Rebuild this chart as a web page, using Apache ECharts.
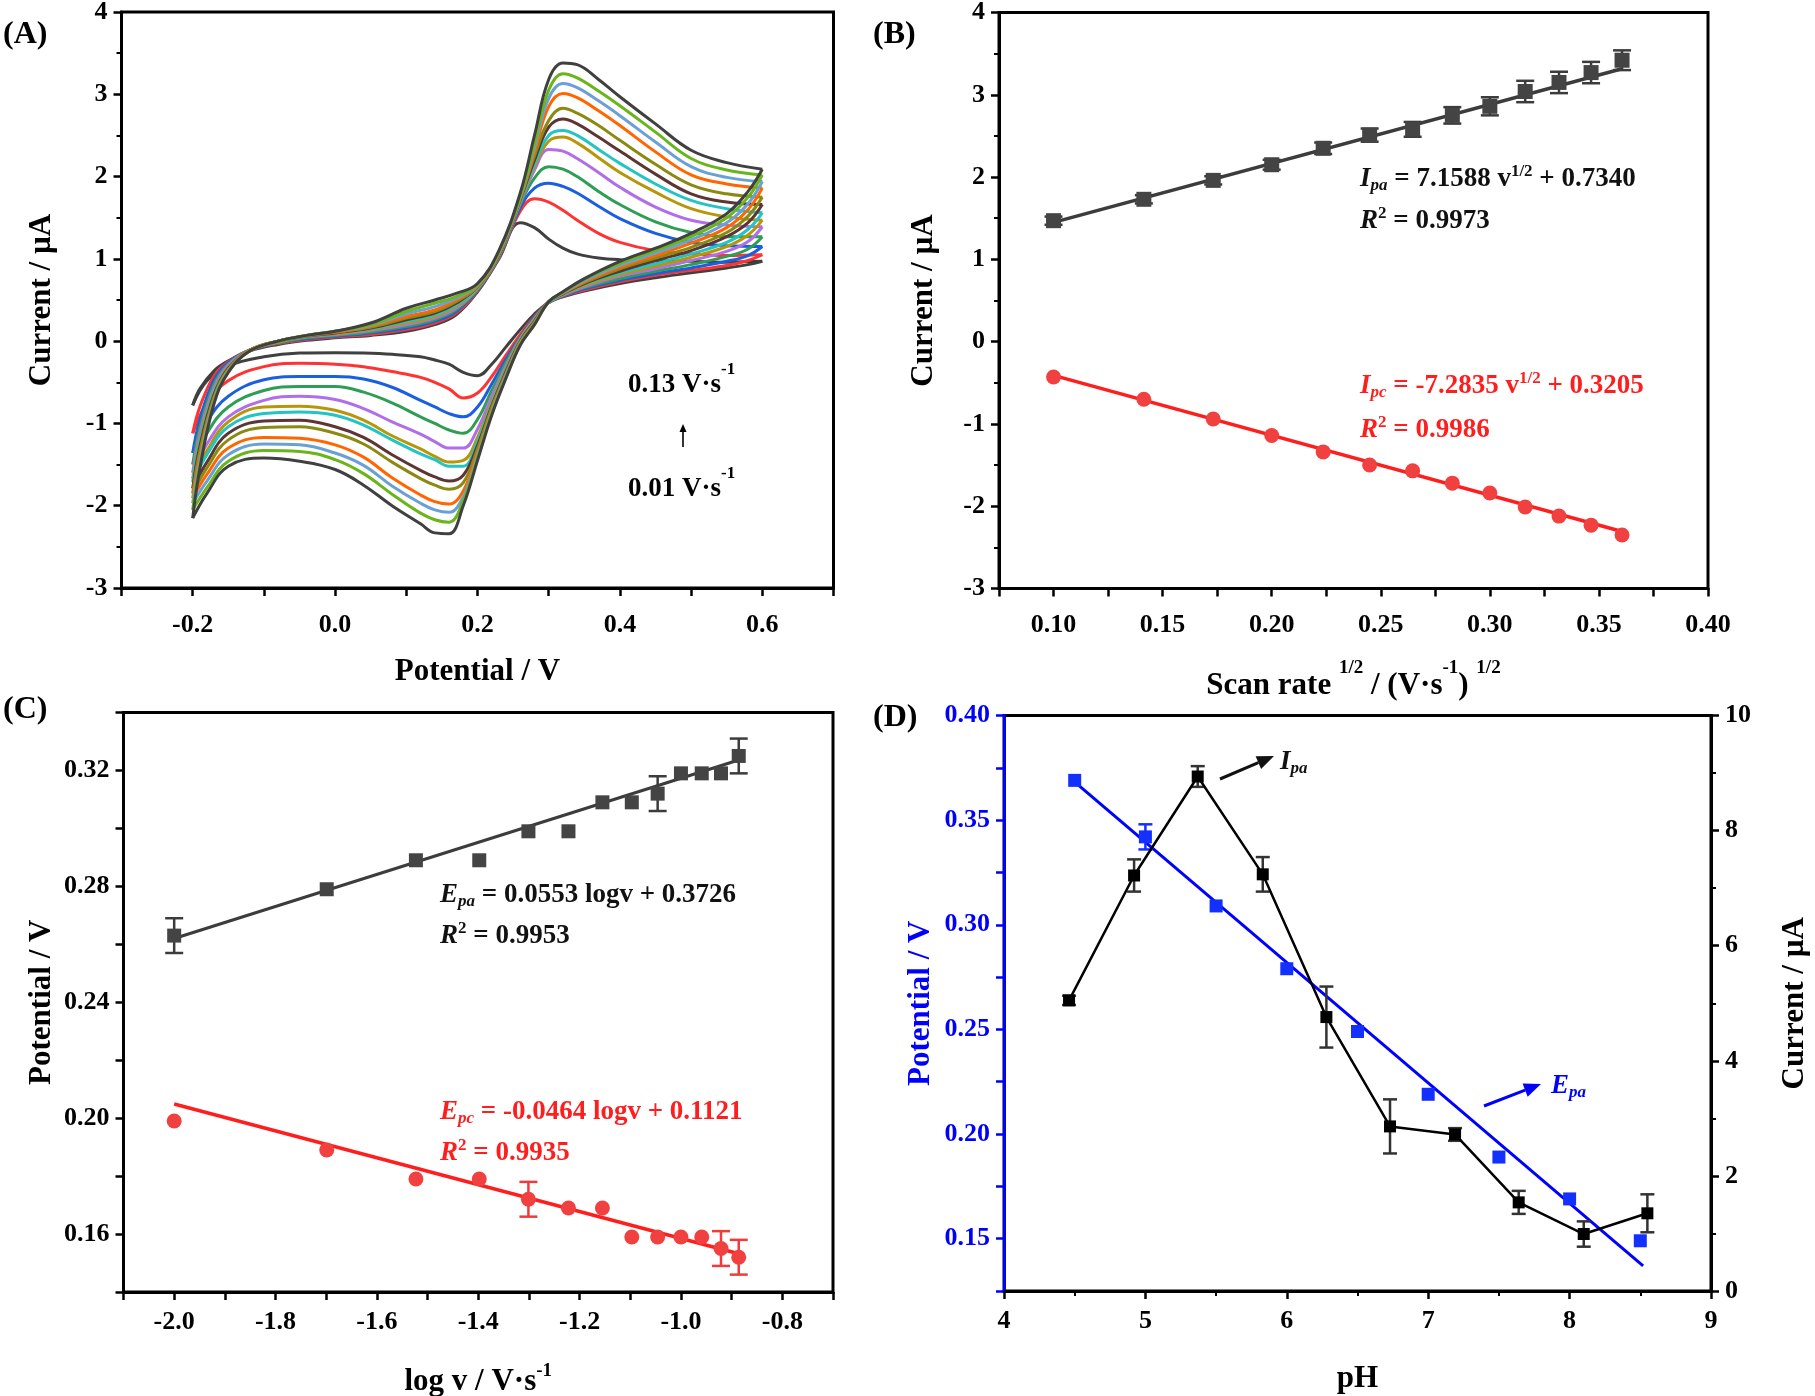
<!DOCTYPE html>
<html><head><meta charset="utf-8">
<script src="https://cdn.jsdelivr.net/npm/echarts@6/dist/echarts.min.js"></script>
<style>html,body{margin:0;padding:0;background:#fff}#c{width:1815px;height:1396px}</style>
</head><body><div id="c"></div>
<script>
const FONT = '"Liberation Serif", "Times New Roman", serif';

// ---------- Panel A : cyclic voltammograms (0.01 ... 0.13 V/s) ----------
const cvRates = ['0.01','0.02','0.03','0.04','0.05','0.06','0.07','0.08','0.09','0.10','0.11','0.12','0.13'];
const cvColors = ['#404040','#ff3333','#1a5fe0','#2e9e55','#b06ee8','#b8960a','#22c4c4','#5e3535','#8a8a12','#ff6600','#6aa0d6','#6ab51c','#404040'];
const cvFwdPotential = [-0.20,-0.19,-0.17,-0.15,-0.12,-0.08,-0.04,0.00,0.05,0.10,0.14,0.17,0.20,0.23,0.26,0.28,0.30,0.32,0.34,0.37,0.40,0.45,0.50,0.55,0.60];
const cvRevPotential = [0.60,0.58,0.55,0.50,0.45,0.40,0.35,0.32,0.30,0.28,0.26,0.24,0.22,0.20,0.18,0.16,0.14,0.12,0.08,0.04,0.00,-0.05,-0.10,-0.15,-0.18,-0.20];

const cvFwd01 = [-0.78,-0.58,-0.36,-0.24,-0.12,-0.04,0.01,0.04,0.07,0.12,0.20,0.32,0.60,1.00,1.44,1.38,1.24,1.13,1.06,1.01,0.99,0.98,0.97,0.96,0.97];
const cvFwd02 = [-1.12,-0.80,-0.42,-0.25,-0.11,-0.03,0.02,0.05,0.08,0.14,0.22,0.34,0.61,1.01,1.58,1.73,1.69,1.59,1.47,1.31,1.20,1.10,1.06,1.04,1.05];
const cvFwd03 = [-1.36,-0.95,-0.47,-0.26,-0.11,-0.02,0.03,0.06,0.10,0.16,0.24,0.36,0.62,1.02,1.62,1.86,1.92,1.88,1.80,1.64,1.49,1.31,1.20,1.16,1.15];
const cvFwd04 = [-1.50,-1.05,-0.52,-0.28,-0.11,-0.02,0.04,0.07,0.11,0.18,0.26,0.38,0.63,1.03,1.66,1.98,2.12,2.09,2.00,1.82,1.66,1.45,1.32,1.27,1.27];
const cvFwd05 = [-1.60,-1.12,-0.56,-0.29,-0.11,-0.01,0.05,0.08,0.13,0.20,0.28,0.40,0.64,1.04,1.68,2.08,2.33,2.31,2.22,2.05,1.87,1.63,1.47,1.41,1.39];
const cvFwd06 = [-1.67,-1.18,-0.60,-0.31,-0.11,-0.01,0.06,0.09,0.14,0.22,0.30,0.42,0.64,1.04,1.70,2.12,2.43,2.48,2.41,2.23,2.05,1.81,1.61,1.51,1.47];
const cvFwd07 = [-1.71,-1.22,-0.62,-0.32,-0.11,0.00,0.06,0.10,0.15,0.24,0.32,0.44,0.65,1.05,1.71,2.15,2.50,2.56,2.50,2.33,2.16,1.91,1.71,1.61,1.56];
const cvFwd08 = [-1.79,-1.28,-0.65,-0.33,-0.11,0.00,0.06,0.10,0.16,0.26,0.34,0.46,0.66,1.05,1.72,2.20,2.60,2.70,2.64,2.48,2.31,2.03,1.79,1.69,1.66];
const cvFwd09 = [-1.85,-1.34,-0.68,-0.34,-0.11,0.00,0.06,0.11,0.17,0.28,0.36,0.48,0.66,1.06,1.73,2.25,2.68,2.83,2.77,2.62,2.44,2.15,1.90,1.79,1.75];
const cvFwd10 = [-1.91,-1.40,-0.70,-0.35,-0.11,0.00,0.07,0.11,0.18,0.30,0.38,0.50,0.67,1.06,1.74,2.30,2.85,3.01,2.96,2.80,2.62,2.30,2.02,1.91,1.86];
const cvFwd11 = [-1.97,-1.45,-0.72,-0.36,-0.12,0.00,0.07,0.12,0.19,0.33,0.42,0.52,0.68,1.07,1.75,2.35,2.95,3.13,3.08,2.92,2.74,2.42,2.12,1.99,1.94];
const cvFwd12 = [-2.05,-1.50,-0.74,-0.37,-0.12,0.00,0.07,0.12,0.20,0.36,0.46,0.54,0.69,1.08,1.76,2.40,3.05,3.25,3.20,3.04,2.86,2.54,2.22,2.08,2.02];
const cvFwd13 = [-2.15,-1.55,-0.76,-0.38,-0.12,0.00,0.07,0.12,0.22,0.40,0.50,0.58,0.70,1.10,1.80,2.50,3.18,3.38,3.36,3.18,2.97,2.64,2.32,2.17,2.09];

const cvRev01 = [0.97,0.93,0.89,0.83,0.77,0.70,0.61,0.54,0.47,0.33,0.14,-0.07,-0.28,-0.42,-0.38,-0.28,-0.23,-0.19,-0.16,-0.145,-0.14,-0.145,-0.19,-0.30,-0.48,-0.78];
const cvRev02 = [1.05,0.98,0.92,0.86,0.80,0.72,0.62,0.545,0.47,0.30,0.08,-0.17,-0.43,-0.63,-0.69,-0.58,-0.50,-0.44,-0.37,-0.31,-0.28,-0.27,-0.31,-0.48,-0.75,-1.12];
const cvRev03 = [1.15,1.04,0.97,0.89,0.82,0.74,0.635,0.55,0.47,0.29,0.05,-0.22,-0.52,-0.80,-0.92,-0.88,-0.80,-0.72,-0.56,-0.46,-0.43,-0.43,-0.47,-0.67,-0.98,-1.36];
const cvRev04 = [1.27,1.12,1.03,0.93,0.85,0.76,0.65,0.555,0.47,0.28,0.04,-0.26,-0.60,-0.95,-1.12,-1.08,-1.00,-0.92,-0.75,-0.62,-0.55,-0.55,-0.60,-0.80,-1.12,-1.50];
const cvRev05 = [1.39,1.21,1.09,0.98,0.88,0.79,0.66,0.56,0.47,0.27,0.03,-0.30,-0.67,-1.07,-1.30,-1.30,-1.22,-1.13,-0.98,-0.82,-0.71,-0.67,-0.72,-0.92,-1.25,-1.60];
const cvRev06 = [1.47,1.29,1.15,1.02,0.91,0.81,0.675,0.565,0.47,0.26,0.02,-0.33,-0.73,-1.17,-1.45,-1.47,-1.40,-1.31,-1.15,-0.96,-0.84,-0.79,-0.80,-0.98,-1.33,-1.67];
const cvRev07 = [1.56,1.36,1.20,1.06,0.94,0.83,0.69,0.57,0.47,0.25,0.01,-0.35,-0.76,-1.22,-1.52,-1.52,-1.44,-1.37,-1.20,-1.02,-0.90,-0.86,-0.88,-1.04,-1.38,-1.71];
const cvRev08 = [1.66,1.44,1.27,1.10,0.98,0.85,0.70,0.575,0.48,0.24,0.00,-0.37,-0.79,-1.27,-1.63,-1.70,-1.65,-1.57,-1.38,-1.17,-1.04,-0.96,-0.97,-1.12,-1.47,-1.79];
const cvRev09 = [1.75,1.52,1.32,1.14,1.01,0.88,0.71,0.58,0.48,0.23,-0.01,-0.39,-0.81,-1.31,-1.72,-1.80,-1.75,-1.67,-1.47,-1.25,-1.12,-1.04,-1.05,-1.20,-1.54,-1.85];
const cvRev10 = [1.86,1.60,1.38,1.19,1.04,0.90,0.72,0.585,0.48,0.22,-0.02,-0.41,-0.84,-1.36,-1.82,-1.98,-1.95,-1.87,-1.66,-1.41,-1.26,-1.18,-1.17,-1.30,-1.62,-1.91];
const cvRev11 = [1.94,1.67,1.44,1.23,1.07,0.92,0.735,0.59,0.48,0.21,-0.03,-0.42,-0.86,-1.39,-1.89,-2.08,-2.05,-1.97,-1.76,-1.51,-1.36,-1.26,-1.25,-1.38,-1.70,-1.97];
const cvRev12 = [2.02,1.75,1.50,1.27,1.10,0.945,0.75,0.595,0.48,0.20,-0.04,-0.44,-0.88,-1.42,-1.94,-2.20,-2.17,-2.09,-1.86,-1.61,-1.44,-1.34,-1.33,-1.46,-1.78,-2.05];
const cvRev13 = [2.09,1.82,1.55,1.31,1.13,0.97,0.76,0.60,0.48,0.20,-0.05,-0.45,-0.90,-1.45,-2.00,-2.34,-2.33,-2.22,-2.00,-1.75,-1.56,-1.46,-1.42,-1.52,-1.85,-2.15];

const cvFwd = [cvFwd01,cvFwd02,cvFwd03,cvFwd04,cvFwd05,cvFwd06,cvFwd07,cvFwd08,cvFwd09,cvFwd10,cvFwd11,cvFwd12,cvFwd13];
const cvRev = [cvRev01,cvRev02,cvRev03,cvRev04,cvRev05,cvRev06,cvRev07,cvRev08,cvRev09,cvRev10,cvRev11,cvRev12,cvRev13];

// ---------- Panel B : peak current vs sqrt(scan rate) ----------
const sqrtScanRate = [0.1000,0.1414,0.1732,0.2000,0.2236,0.2449,0.2646,0.2828,0.3000,0.3162,0.3317,0.3464,0.3606];
const ipaB    = [1.47,1.73,1.96,2.15,2.35,2.51,2.58,2.75,2.86,3.04,3.15,3.27,3.42];
const ipaBErr = [0.05,0.05,0.05,0.06,0.07,0.08,0.09,0.10,0.11,0.13,0.13,0.13,0.12];
const ipcB    = [-0.43,-0.70,-0.94,-1.14,-1.34,-1.50,-1.57,-1.72,-1.84,-2.01,-2.12,-2.23,-2.35];
const ipaFitB = [[0.100,1.45],[0.361,3.32]];
const ipcFitB = [[0.100,-0.41],[0.361,-2.31]];

// ---------- Panel C : peak potential vs log(scan rate) ----------
const logScanRate = [-2.000,-1.699,-1.523,-1.398,-1.301,-1.222,-1.155,-1.097,-1.046,-1.000,-0.959,-0.921,-0.886];
const epaC    = [0.263,0.279,0.289,0.289,0.299,0.299,0.309,0.309,0.312,0.319,0.319,0.319,0.325];
const epaCErr = [0.006,0,0,0,0,0,0,0,0.006,0,0,0,0.006];
const epcC    = [0.199,0.189,0.179,0.179,0.172,0.169,0.169,0.159,0.159,0.159,0.159,0.155,0.152];
const epcCErr = [0,0,0,0,0.006,0,0,0,0,0,0,0.006,0.006];
const epaFitC = [[-2.000,0.262],[-0.886,0.3236]];
const epcFitC = [[-2.000,0.2049],[-0.886,0.1532]];

// ---------- Panel D : effect of pH ----------
const phE      = [4.5,5.0,5.5,6.0,6.5,7.0,7.5,8.0,8.5];
const epaD     = [0.369,0.342,0.309,0.279,0.249,0.219,0.189,0.169,0.149];
const epaDErr  = [0,0.006,0,0,0,0,0,0,0];
const epaFitD  = [[4.47,0.370],[8.52,0.137]];
const phI      = [4.46,4.92,5.37,5.83,6.28,6.73,7.19,7.64,8.10,8.55];
const ipaD     = [5.05,7.22,8.94,7.24,4.76,2.86,2.72,1.54,0.99,1.35];
const ipaDErr  = [0.08,0.28,0.18,0.30,0.53,0.47,0.11,0.20,0.22,0.33];

// ---------- helpers ----------
function merge(base, extra) {
  const out = Object.assign({}, base);
  for (const k in extra) {
    const v = extra[k];
    if (v && typeof v === 'object' && !Array.isArray(v) && base[k] && typeof base[k] === 'object') out[k] = merge(base[k], v);
    else out[k] = v;
  }
  return out;
}
function axis(extra, color) {
  const c = color || '#000';
  const base = {
    type: 'value', splitLine: {show: false},
    axisLine: {show: true, onZero: false, lineStyle: {color: c, width: 3}},
    axisTick: {show: true, inside: false, length: 8, lineStyle: {color: c, width: 2.5}},
    minorTick: {show: false},
    axisLabel: {color: c, fontFamily: FONT, fontWeight: 'bold', fontSize: 26, margin: 14},
    nameLocation: 'middle', nameRotate: null,
    nameTextStyle: {color: c, fontFamily: FONT, fontWeight: 'bold', fontSize: 31}
  };
  return merge(base, extra);
}
const minor2 = {show: true, splitNumber: 2, length: 5, lineStyle: {color: '#000', width: 2}};
function fmtEvery(step, digits) {
  return function (v) {
    const n = Math.round(v / step * 1e6) / 1e6;
    if (Math.abs(n - Math.round(n)) > 1e-6) return '';
    if (Math.abs(v) < 1e-9) v = 0;
    return v.toFixed(digits);
  };
}
function pairs(xs, ys) { return xs.map((x, i) => [x, ys[i]]); }
function triples(xs, ys, es) { return xs.map((x, i) => [x, ys[i], es[i]]); }
function errorSeries(xi, yi, data, color, capW) {
  return {
    type: 'custom', xAxisIndex: xi, yAxisIndex: yi, data: data, silent: true, z: 3,
    encode: {x: 0, y: 1},
    renderItem: function (params, api) {
      const x = api.value(0), y = api.value(1), e = api.value(2);
      if (!(e > 0)) return null;
      const t = api.coord([x, y + e]), b = api.coord([x, y - e]), h = capW / 2;
      const st = {stroke: color, lineWidth: 2.5};
      return {type: 'group', children: [
        {type: 'line', shape: {x1: t[0], y1: t[1], x2: b[0], y2: b[1]}, style: st},
        {type: 'line', shape: {x1: t[0] - h, y1: t[1], x2: t[0] + h, y2: t[1]}, style: st},
        {type: 'line', shape: {x1: b[0] - h, y1: b[1], x2: b[0] + h, y2: b[1]}, style: st}
      ]};
    }
  };
}
function richStyles(color, supRaiseLine) {
  const L = supRaiseLine || 31;
  return {
    n: {fontFamily: FONT, fontWeight: 'bold', fontSize: 27, fill: color, lineHeight: L},
    i: {fontFamily: FONT, fontWeight: 'bold', fontStyle: 'italic', fontSize: 27, fill: color, lineHeight: L},
    sub: {fontFamily: FONT, fontWeight: 'bold', fontStyle: 'italic', fontSize: 17, fill: color, lineHeight: 17, verticalAlign: 'bottom'},
    sup: {fontFamily: FONT, fontWeight: 'bold', fontSize: 17, fill: color, lineHeight: 17, verticalAlign: 'top'}
  };
}
function label(x, y, text, color, L) {
  return {type: 'text', x: x, y: y, z: 100, style: {text: text, rich: richStyles(color, L), align: 'left', verticalAlign: 'middle'}};
}
function arrow(x1, y1, x2, y2, color, lw, hl, hw) {
  const dx = x2 - x1, dy = y2 - y1, len = Math.hypot(dx, dy), ux = dx / len, uy = dy / len;
  hl = hl || 17; hw = hw || 7; lw = lw || 3;
  const bx = x2 - ux * hl, by = y2 - uy * hl;
  return {type: 'group', z: 100, children: [
    {type: 'line', shape: {x1: x1, y1: y1, x2: bx, y2: by}, style: {stroke: color, lineWidth: lw}},
    {type: 'polygon', shape: {points: [[x2, y2], [bx - uy * hw, by + ux * hw], [bx + uy * hw, by - ux * hw]]}, style: {fill: color}}
  ]};
}
function panelLetter(x, y, t) {
  return {type: 'text', x: x, y: y, z: 100, style: {text: t, fill: '#000', font: 'bold 32px ' + FONT, align: 'left', verticalAlign: 'middle'}};
}

// ---------- series ----------
const series = [];
cvFwd.forEach(function (arr, k) {
  const ls = {color: cvColors[k], width: 3};
  series.push({type: 'line', name: cvRates[k] + ' fwd', xAxisIndex: 0, yAxisIndex: 0, data: pairs(cvFwdPotential, arr),
    smooth: 0.4, symbol: 'none', silent: true, lineStyle: ls, itemStyle: {color: cvColors[k]}});
  series.push({type: 'line', name: cvRates[k] + ' rev', xAxisIndex: 0, yAxisIndex: 0, data: pairs(cvRevPotential, cvRev[k]),
    smooth: 0.4, symbol: 'none', silent: true, lineStyle: ls, itemStyle: {color: cvColors[k]}});
});
const darkGray = '#3c3c3c', red = '#f23a3a', blue = '#0000ff';
// B
series.push({type: 'line', xAxisIndex: 1, yAxisIndex: 1, data: ipaFitB, symbol: 'none', silent: true, lineStyle: {color: darkGray, width: 3.5}, z: 2});
series.push({type: 'line', xAxisIndex: 1, yAxisIndex: 1, data: ipcFitB, symbol: 'none', silent: true, lineStyle: {color: '#ff1e1e', width: 3.5}, z: 2});
series.push(errorSeries(1, 1, triples(sqrtScanRate, ipaB, ipaBErr), darkGray, 18));
series.push({type: 'scatter', xAxisIndex: 1, yAxisIndex: 1, data: pairs(sqrtScanRate, ipaB), symbol: 'rect', symbolSize: 15, itemStyle: {color: '#444', opacity: 1}, z: 4});
series.push({type: 'scatter', xAxisIndex: 1, yAxisIndex: 1, data: pairs(sqrtScanRate, ipcB), symbol: 'circle', symbolSize: 15, itemStyle: {color: '#f04040', opacity: 1}, z: 4});
// C
series.push({type: 'line', xAxisIndex: 2, yAxisIndex: 2, data: epaFitC, symbol: 'none', silent: true, lineStyle: {color: darkGray, width: 3}, z: 2});
series.push({type: 'line', xAxisIndex: 2, yAxisIndex: 2, data: epcFitC, symbol: 'none', silent: true, lineStyle: {color: '#ff1e1e', width: 3.5}, z: 2});
series.push(errorSeries(2, 2, triples(logScanRate, epaC, epaCErr), darkGray, 18));
series.push(errorSeries(2, 2, triples(logScanRate, epcC, epcCErr), red, 18));
series.push({type: 'scatter', xAxisIndex: 2, yAxisIndex: 2, data: pairs(logScanRate, epaC), symbol: 'rect', symbolSize: 14, itemStyle: {color: '#444', opacity: 1}, z: 4});
series.push({type: 'scatter', xAxisIndex: 2, yAxisIndex: 2, data: pairs(logScanRate, epcC), symbol: 'circle', symbolSize: 15, itemStyle: {color: '#f04040', opacity: 1}, z: 4});
// D
series.push({type: 'line', xAxisIndex: 3, yAxisIndex: 3, data: epaFitD, symbol: 'none', silent: true, lineStyle: {color: blue, width: 3}, z: 2});
series.push(errorSeries(3, 3, triples(phE, epaD, epaDErr), '#1430ff', 14));
series.push({type: 'scatter', xAxisIndex: 3, yAxisIndex: 3, data: pairs(phE, epaD), symbol: 'rect', symbolSize: 13, itemStyle: {color: '#1430ff', opacity: 1}, z: 4});
series.push({type: 'line', xAxisIndex: 3, yAxisIndex: 4, data: pairs(phI, ipaD), symbol: 'rect', symbolSize: 12, showSymbol: true,
  lineStyle: {color: '#000', width: 2.5}, itemStyle: {color: '#000', opacity: 1}, z: 5});
series.push(errorSeries(3, 4, triples(phI, ipaD, ipaDErr), '#333', 14));

const gridBase = {show: true, borderColor: '#000', borderWidth: 3, backgroundColor: 'transparent', containLabel: false, outerBoundsMode: 'none'};

const option = {
  animation: false,
  backgroundColor: '#fff',
  grid: [
    merge(gridBase, {left: 121.5, top: 12, width: 712, height: 576}),
    merge(gridBase, {left: 999, top: 12.5, width: 709, height: 576}),
    merge(gridBase, {left: 123.5, top: 712.5, width: 709.5, height: 579.5}),
    merge(gridBase, {left: 1004, top: 715.5, width: 707, height: 575.5})
  ],
  xAxis: [
    axis({gridIndex: 0, position: 'bottom', min: -0.3, max: 0.7, interval: 0.1, name: 'Potential / V', nameGap: 68,
      axisLabel: {margin: 24, formatter: fmtEvery(0.2, 1)}}),
    axis({gridIndex: 1, position: 'bottom', min: 0.075, max: 0.40, interval: 0.025, nameGap: 70,
      name: '{t|Scan rate }{s|1/2}{t| / (V·s}{s|-1}{t|) }{s|1/2}',
      nameTextStyle: {rich: {
        t: {fontFamily: FONT, fontWeight: 'bold', fontSize: 31, color: '#000', lineHeight: 55},
        s: {fontFamily: FONT, fontWeight: 'bold', fontSize: 19, color: '#000', lineHeight: 19, verticalAlign: 'top'}}},
      axisLabel: {margin: 24, formatter: fmtEvery(0.05, 2)}}),
    axis({gridIndex: 2, position: 'bottom', min: -2.1, max: -0.7, interval: 0.1, nameGap: 70,
      name: '{t|log v / V·s}{s|-1}',
      nameTextStyle: {rich: {
        t: {fontFamily: FONT, fontWeight: 'bold', fontSize: 31, color: '#000', lineHeight: 39},
        s: {fontFamily: FONT, fontWeight: 'bold', fontSize: 19, color: '#000', lineHeight: 19, verticalAlign: 'top'}}},
      axisLabel: {margin: 17, formatter: fmtEvery(0.2, 1)}}),
    axis({gridIndex: 3, position: 'bottom', min: 4, max: 9, interval: 1, name: 'pH', nameGap: 72, minorTick: minor2,
      axisLabel: {margin: 17, formatter: function (v) { return String(Math.round(v)); }}})
  ],
  yAxis: [
    axis({gridIndex: 0, position: 'left', min: -3, max: 4, interval: 1, name: 'Current / µA', nameGap: 64, nameRotate: 90, minorTick: minor2}),
    axis({gridIndex: 1, position: 'left', min: -3, max: 4, interval: 1, name: 'Current / µA', nameGap: 60, nameRotate: 90, minorTick: minor2}),
    axis({gridIndex: 2, position: 'left', min: 0.14, max: 0.34, interval: 0.02, name: 'Potential / V', nameGap: 66, nameRotate: 90,
      axisLabel: {formatter: fmtEvery(0.04, 2)}}),
    axis({gridIndex: 3, position: 'left', min: 0.125, max: 0.40, interval: 0.025, name: 'Potential / V', nameGap: 68, nameRotate: 90,
      axisLabel: {formatter: fmtEvery(0.05, 2)}}, blue),
    axis({gridIndex: 3, position: 'right', min: 0, max: 10, interval: 2, name: 'Current / µA', nameGap: 68, nameRotate: 90, minorTick: minor2,
      axisLabel: {formatter: function (v) { return String(Math.round(v)); }}})
  ],
  series: series,
  graphic: [
    panelLetter(3, 35, '(A)'), panelLetter(873, 35, '(B)'), panelLetter(3, 710, '(C)'), panelLetter(873, 718, '(D)'),
    label(628, 385, '{n|0.13 V·s}{sup|-1}', '#000', 47),
    arrow(683, 447, 683, 424, '#000', 1.6, 8, 3.5),
    label(628, 489, '{n|0.01 V·s}{sup|-1}', '#000', 47),
    label(1360, 179, '{i|I}{sub|pa}{n| = 7.1588 v}{sup|1/2}{n| + 0.7340}', '#111'),
    label(1360, 221, '{i|R}{sup|2}{n| = 0.9973}', '#111'),
    label(1360, 386, '{i|I}{sub|pc}{n| = -7.2835 v}{sup|1/2}{n| + 0.3205}', '#ff1e1e'),
    label(1360, 430, '{i|R}{sup|2}{n| = 0.9986}', '#ff1e1e'),
    label(440, 895, '{i|E}{sub|pa}{n| = 0.0553 logv + 0.3726}', '#111'),
    label(440, 936, '{i|R}{sup|2}{n| = 0.9953}', '#111'),
    label(440, 1112, '{i|E}{sub|pc}{n| = -0.0464 logv + 0.1121}', '#ff1e1e'),
    label(440, 1153, '{i|R}{sup|2}{n| = 0.9935}', '#ff1e1e'),
    arrow(1220, 779, 1274, 756, '#111'),
    label(1280, 762, '{i|I}{sub|pa}', '#111'),
    arrow(1484, 1106, 1541, 1084, blue),
    label(1551, 1086, '{i|E}{sub|pa}', blue)
  ]
};

const chart = echarts.init(document.getElementById('c'), null, {renderer: 'canvas'});
chart.setOption(option);
</script></body></html>
